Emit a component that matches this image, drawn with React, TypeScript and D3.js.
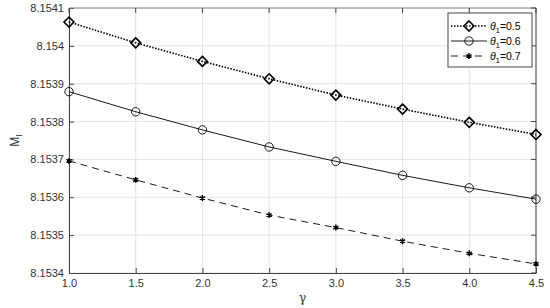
import React, { useEffect, useRef } from 'react';
import * as d3 from 'd3';

const gammas = [1.0, 1.5, 2.0, 2.5, 3.0, 3.5, 4.0, 4.5];
const theta05 = [8.154063, 8.154008, 8.153959, 8.153913, 8.15387, 8.153833, 8.153798, 8.153766];
const theta06 = [8.153879, 8.153826, 8.153778, 8.153733, 8.153695, 8.153658, 8.153625, 8.153595];
const theta07 = [8.153696, 8.153646, 8.153598, 8.153553, 8.15352, 8.153484, 8.153452, 8.153424];
const thetaLabels = ['0.5', '0.6', '0.7'];
const yTicks = [8.1534, 8.1535, 8.1536, 8.1537, 8.1538, 8.1539, 8.154, 8.1541];

const App = () => {
  const ref = useRef<SVGSVGElement>(null);

  useEffect(() => {
    const svg = d3.select(ref.current);
    svg.selectAll('*').remove();
    const left = 69, right = 536, top = 8, bottom = 273;
    const font = 'Liberation Sans, Arial, sans-serif';

    const x = d3.scaleLinear().domain([1, 4.5]).range([left, right]);
    const y = d3.scaleLinear().domain([8.1534, 8.1541]).range([bottom, top]);

    svg.append('rect').attr('x', left).attr('y', top).attr('width', right - left).attr('height', bottom - top).attr('fill', '#fff');

    // grid
    const grid = svg.append('g').attr('stroke', '#e3e3e3').attr('stroke-width', 1);
    gammas.forEach(g => grid.append('line').attr('x1', x(g)).attr('x2', x(g)).attr('y1', top).attr('y2', bottom));
    yTicks.forEach(t => grid.append('line').attr('x1', left).attr('x2', right).attr('y1', y(t)).attr('y2', y(t)));

    // axes
    const xAxis = svg.append('g').attr('transform', `translate(0,${bottom})`)
      .call(d3.axisBottom(x).tickValues(gammas).tickFormat(d3.format('.1f')).tickSizeInner(-5).tickSizeOuter(0).tickPadding(6));
    const yAxis = svg.append('g').attr('transform', `translate(${left},0)`)
      .call(d3.axisLeft(y).tickValues(yTicks).tickFormat(d => String(+(+d).toFixed(4))).tickSizeInner(-5).tickSizeOuter(0).tickPadding(5));
    [xAxis, yAxis].forEach(a => {
      a.selectAll('path,line').attr('stroke', '#444');
      a.selectAll('text').attr('font-family', font).attr('font-size', 11).attr('fill', '#333');
    });
    // top & right ticks
    const box = svg.append('g').attr('stroke', '#444');
    box.append('line').attr('x1', left).attr('x2', right).attr('y1', top).attr('y2', top).attr('stroke', '#888');
    box.append('line').attr('x1', right).attr('x2', right).attr('y1', top).attr('y2', bottom);
    gammas.forEach(g => box.append('line').attr('x1', x(g)).attr('x2', x(g)).attr('y1', top).attr('y2', top + 5));
    yTicks.forEach(t => box.append('line').attr('x1', right).attr('x2', right - 5).attr('y1', y(t)).attr('y2', y(t)));

    const series = [
      { vals: theta05, dash: '1.5,1.5', width: 1.6, marker: 'diamond' },
      { vals: theta06, dash: null, width: 0.9, marker: 'circle' },
      { vals: theta07, dash: '7,5', width: 0.9, marker: 'star' },
    ];

    const drawMarker = (g: any, kind: string, cx: number, cy: number) => {
      if (kind === 'diamond') {
        g.append('path').attr('d', `M${cx},${cy - 5}L${cx + 5},${cy}L${cx},${cy + 5}L${cx - 5},${cy}Z`)
          .attr('fill', 'none').attr('stroke', '#000').attr('stroke-width', 1.6);
      } else if (kind === 'circle') {
        g.append('circle').attr('cx', cx).attr('cy', cy).attr('r', 4.2).attr('fill', 'none').attr('stroke', '#000').attr('stroke-width', 0.9);
      } else {
        g.append('path').attr('d', d3.symbol(d3.symbolAsterisk, 24)()).attr('transform', `translate(${cx},${cy})`)
          .attr('stroke', '#000').attr('stroke-width', 1.4).attr('fill', 'none');
      }
    };

    const line = d3.line<number>().x((_, i) => x(gammas[i])).y(d => y(d));
    series.forEach(s => {
      svg.append('path').attr('d', line(s.vals)).attr('fill', 'none').attr('stroke', '#000')
        .attr('stroke-width', s.width).attr('stroke-dasharray', s.dash);
      const mg = svg.append('g');
      s.vals.forEach((v, i) => drawMarker(mg, s.marker, x(gammas[i]), y(v)));
    });

    // labels
    svg.append('text').attr('x', (left + right) / 2).attr('y', 302).attr('text-anchor', 'middle')
      .attr('font-family', 'DejaVu Serif, serif').attr('font-size', 12).attr('fill', '#333').text('γ');
    const yl = svg.append('text').attr('transform', `translate(19,${(top + bottom) / 2}) rotate(-90)`)
      .attr('text-anchor', 'middle').attr('font-family', font).attr('font-size', 12).attr('fill', '#333');
    yl.append('tspan').text('M');
    yl.append('tspan').attr('font-size', 9).attr('dy', 3).text('I');

    // legend
    const lg = svg.append('g');
    lg.append('rect').attr('x', 448).attr('y', 13).attr('width', 84).attr('height', 54)
      .attr('fill', '#fff').attr('stroke', '#333').attr('stroke-width', 0.9);
    series.forEach((s, i) => {
      const ly = 26 + i * 15;
      lg.append('line').attr('x1', 451).attr('x2', 487).attr('y1', ly).attr('y2', ly).attr('stroke', '#000')
        .attr('stroke-width', s.width).attr('stroke-dasharray', s.dash);
      drawMarker(lg, s.marker, 469, ly);
      const t = lg.append('text').attr('x', 490).attr('y', ly + 4).attr('font-family', font).attr('font-size', 10.5).attr('fill', '#000');
      t.append('tspan').attr('font-style', 'italic').text('θ');
      t.append('tspan').attr('font-size', 7.5).attr('dy', 3).text('1');
      t.append('tspan').attr('dy', -3).text('=' + thetaLabels[i]);
    });
  }, []);

  return <svg ref={ref} width={550} height={308} style={{ display: 'block', position: 'absolute', left: 0, top: 0, background: '#fff' }} />;
};

export default App;
